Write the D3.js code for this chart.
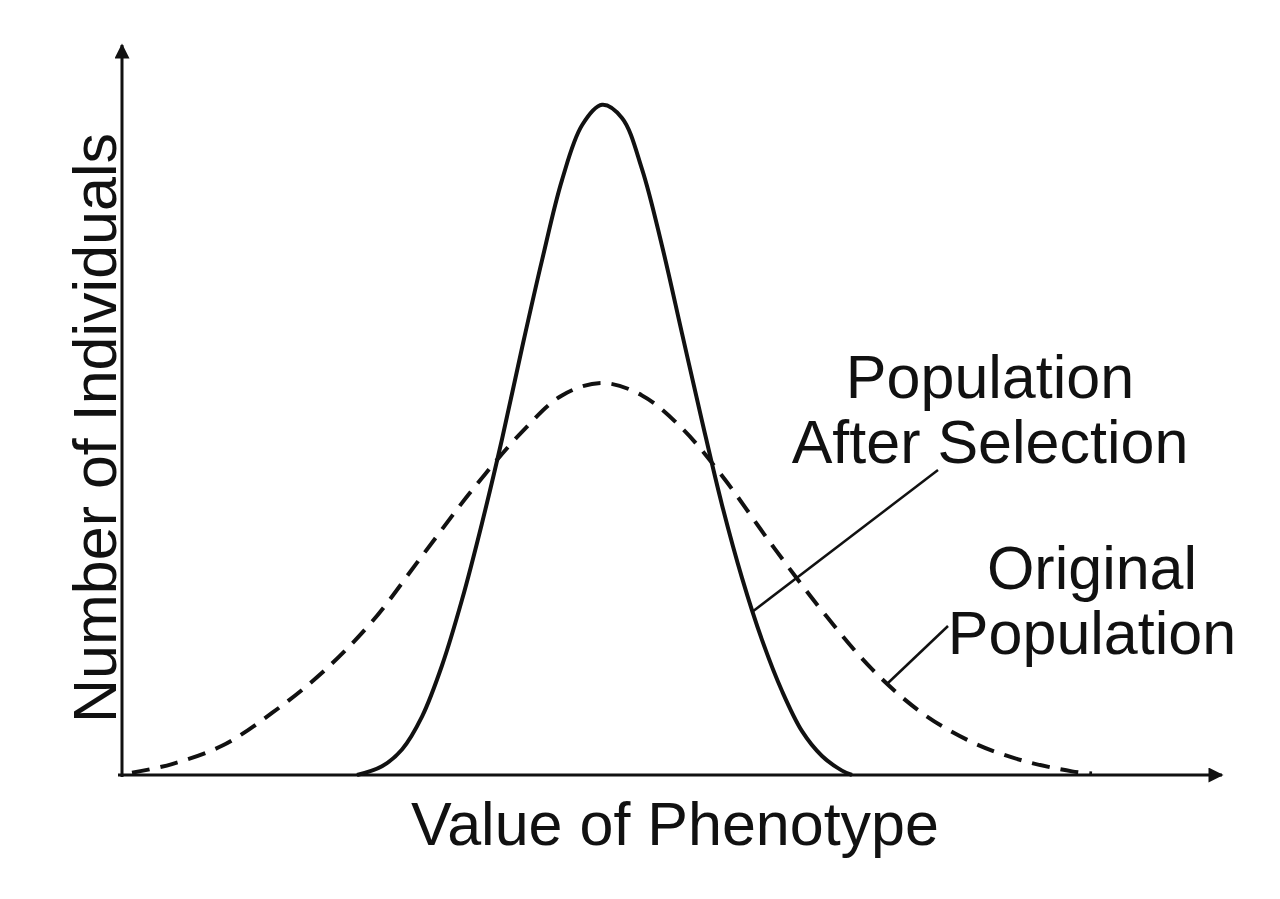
<!DOCTYPE html>
<html>
<head>
<meta charset="utf-8">
<script src="https://cdn.jsdelivr.net/npm/d3@7"></script>
<style>
  body { margin: 0; background: #fff; }
  text { font-family: "Liberation Sans", Arial, sans-serif; fill: #111; }
</style>
</head>
<body>
<div id="chart"></div>
<script>
var width = 1280;
var height = 899;

// phenotype value (x) and number of individuals (y)
var afterX = [23.5, 26, 28, 30, 32, 34, 36, 38, 40, 42, 44, 46, 48, 50, 52, 54, 56, 58, 60, 62, 64, 66, 68, 70, 72, 73];
var afterY = [0, 1.2, 3.5, 8, 15, 24, 34.5, 46, 58.5, 70.5, 81.5, 89, 91.8, 90, 83, 72.5, 60.5, 48.5, 37, 27, 18.5, 11.5, 6, 2.6, 0.6, 0];

var origX = [1, 5, 10, 15, 20, 25, 30, 35, 40, 44, 48, 52, 56, 60, 65, 70, 75, 80, 85, 90, 95, 97];
var origY = [0.3, 1.5, 4, 8.5, 14, 21, 30, 39, 47, 52, 53.7, 52, 47.5, 41, 31.5, 22.5, 14.5, 8.5, 4.5, 2, 0.5, 0.2];

var x = d3.scaleLinear().domain([0, 110]).range([122, 1222]);
var y = d3.scaleLinear().domain([0, 100]).range([775, 45]);

var svg = d3.select("#chart").append("svg")
    .attr("width", width)
    .attr("height", height);

var defs = svg.append("defs");
defs.append("marker")
    .attr("id", "arrow")
    .attr("viewBox", "0 0 10 10")
    .attr("refX", 9).attr("refY", 5)
    .attr("markerWidth", 7).attr("markerHeight", 5)
    .attr("markerUnits", "strokeWidth")
    .attr("orient", "auto")
    .append("path")
    .attr("d", "M0,0 L10,5 L0,10 Z")
    .attr("fill", "#111");

// axes
svg.append("line")
    .attr("x1", x(0)).attr("y1", y(0) + 2)
    .attr("x2", x(0)).attr("y2", y(100))
    .attr("stroke", "#111").attr("stroke-width", 3)
    .attr("marker-end", "url(#arrow)");

svg.append("line")
    .attr("x1", x(0) - 4).attr("y1", y(0))
    .attr("x2", x(110)).attr("y2", y(0))
    .attr("stroke", "#111").attr("stroke-width", 3)
    .attr("marker-end", "url(#arrow)");

var line = d3.line()
    .x(function(d) { return x(d[0]); })
    .y(function(d) { return y(d[1]); })
    .curve(d3.curveCatmullRom.alpha(0.5));

svg.append("path")
    .datum(d3.zip(origX, origY))
    .attr("d", line)
    .attr("fill", "none")
    .attr("stroke", "#111")
    .attr("stroke-width", 4)
    .attr("stroke-dasharray", "18,11");

svg.append("path")
    .datum(d3.zip(afterX, afterY))
    .attr("d", line)
    .attr("fill", "none")
    .attr("stroke", "#111")
    .attr("stroke-width", 4);

// leader lines
svg.append("line")
    .attr("x1", 938).attr("y1", 470).attr("x2", 752).attr("y2", 612)
    .attr("stroke", "#111").attr("stroke-width", 2.5);
svg.append("line")
    .attr("x1", 948).attr("y1", 626).attr("x2", 888).attr("y2", 683)
    .attr("stroke", "#111").attr("stroke-width", 2.5);

// labels
svg.append("text")
    .attr("transform", "translate(116,428) rotate(-90)")
    .attr("text-anchor", "middle")
    .attr("font-size", "61px")
    .text("Number of Individuals");

svg.append("text")
    .attr("x", 675).attr("y", 845)
    .attr("text-anchor", "middle")
    .attr("font-size", "61px")
    .text("Value of Phenotype");

svg.append("text")
    .attr("x", 990).attr("y", 398)
    .attr("text-anchor", "middle")
    .attr("font-size", "61px")
    .text("Population");
svg.append("text")
    .attr("x", 990).attr("y", 463)
    .attr("text-anchor", "middle")
    .attr("font-size", "61px")
    .text("After Selection");

svg.append("text")
    .attr("x", 1092).attr("y", 589)
    .attr("text-anchor", "middle")
    .attr("font-size", "61px")
    .text("Original");
svg.append("text")
    .attr("x", 1092).attr("y", 654)
    .attr("text-anchor", "middle")
    .attr("font-size", "61px")
    .text("Population");
</script>
</body>
</html>
